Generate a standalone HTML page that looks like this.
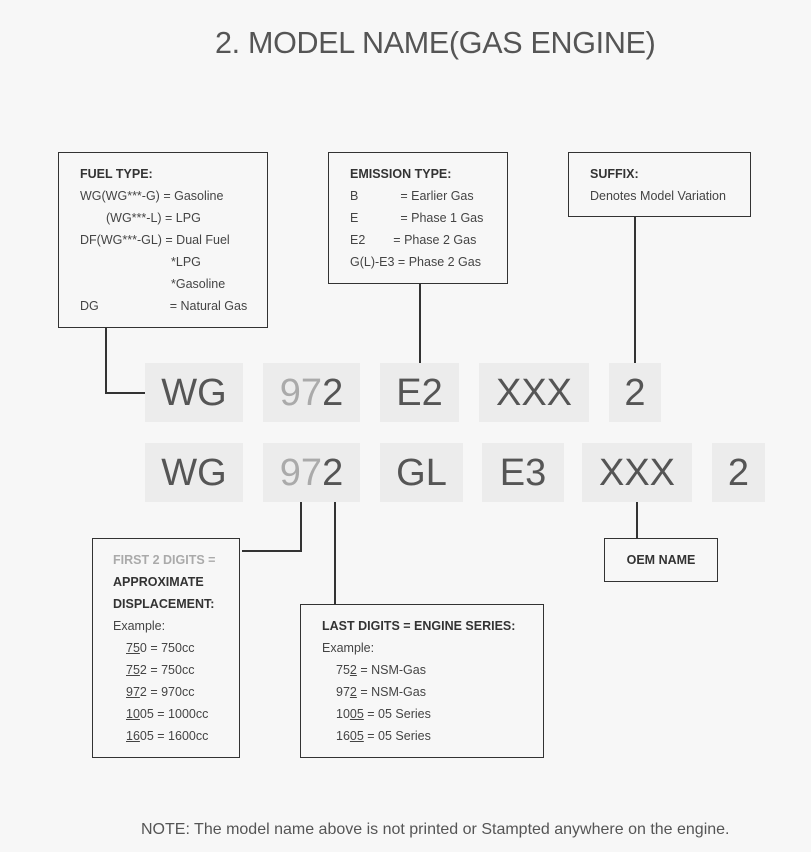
<!DOCTYPE html>
<html><head><meta charset="utf-8"><style>
body{margin:0;width:811px;height:852px;background:#f7f7f7;position:relative;overflow:hidden;font-family:"Liberation Sans",Arial,sans-serif;color:#444}
.a{position:absolute}
.box{position:absolute;border:1px solid #333;box-sizing:border-box;font-size:12.5px;line-height:22px;color:#444}
.b{font-weight:bold;color:#333}
.t{position:absolute;background:#ececec;color:#555;font-size:38px;text-align:center;line-height:60px;height:59px}
.l{position:absolute;background:#333}
.g{color:#aaa}
u{text-decoration:underline}
</style></head><body>
<div class="a" style="left:215px;width:440px;top:26px;text-align:center;font-size:30.5px;color:#555;white-space:nowrap;letter-spacing:-0.3px">2. MODEL NAME(GAS ENGINE)</div>

<div class="box" style="left:58px;top:152px;width:210px;height:176px;padding:10px 0 0 21px">
<div class="b">FUEL TYPE:</div>
<div>WG(WG***-G) = Gasoline</div>
<div style="padding-left:26px">(WG***-L) = LPG</div>
<div>DF(WG***-GL) = Dual Fuel</div>
<div style="padding-left:91px">*LPG</div>
<div style="padding-left:91px">*Gasoline</div>
<div>DG<span style="padding-left:71px">= Natural Gas</span></div>
</div>

<div class="box" style="left:328px;top:152px;width:180px;height:132px;padding:10px 0 0 21px">
<div class="b">EMISSION TYPE:</div>
<div>B<span style="padding-left:42px">= Earlier Gas</span></div>
<div>E<span style="padding-left:42px">= Phase 1 Gas</span></div>
<div>E2<span style="padding-left:28px">= Phase 2 Gas</span></div>
<div>G(L)-E3 = Phase 2 Gas</div>
</div>

<div class="box" style="left:568px;top:152px;width:183px;height:65px;padding:10px 0 0 21px">
<div class="b">SUFFIX:</div>
<div>Denotes Model Variation</div>
</div>

<div class="l" style="left:105px;top:327px;width:2px;height:67px"></div>
<div class="l" style="left:105px;top:392px;width:40px;height:2px"></div>
<div class="l" style="left:419px;top:283px;width:2px;height:80px"></div>
<div class="l" style="left:634px;top:216px;width:2px;height:147px"></div>

<div class="t" style="left:145px;top:363px;width:98px">WG</div>
<div class="t" style="left:263px;top:363px;width:97px"><span class="g">97</span>2</div>
<div class="t" style="left:380px;top:363px;width:79px">E2</div>
<div class="t" style="left:479px;top:363px;width:110px">XXX</div>
<div class="t" style="left:609px;top:363px;width:52px">2</div>

<div class="t" style="left:145px;top:443px;width:98px">WG</div>
<div class="t" style="left:263px;top:443px;width:97px"><span class="g">97</span>2</div>
<div class="t" style="left:380px;top:443px;width:83px">GL</div>
<div class="t" style="left:482px;top:443px;width:82px">E3</div>
<div class="t" style="left:582px;top:443px;width:110px">XXX</div>
<div class="t" style="left:712px;top:443px;width:53px">2</div>

<div class="l" style="left:300px;top:502px;width:2px;height:50px"></div>
<div class="l" style="left:242px;top:550px;width:60px;height:2px"></div>
<div class="l" style="left:334px;top:502px;width:2px;height:102px"></div>
<div class="l" style="left:636px;top:502px;width:2px;height:37px"></div>

<div class="box" style="left:92px;top:538px;width:148px;height:220px;padding:10px 0 0 20px">
<div class="b g">FIRST 2 DIGITS =</div>
<div class="b">APPROXIMATE</div>
<div class="b">DISPLACEMENT:</div>
<div>Example:</div>
<div style="padding-left:13px"><u>75</u>0 = 750cc</div>
<div style="padding-left:13px"><u>75</u>2 = 750cc</div>
<div style="padding-left:13px"><u>97</u>2 = 970cc</div>
<div style="padding-left:13px"><u>10</u>05 = 1000cc</div>
<div style="padding-left:13px"><u>16</u>05 = 1600cc</div>
</div>

<div class="box" style="left:300px;top:604px;width:244px;height:154px;padding:10px 0 0 21px">
<div class="b">LAST DIGITS = ENGINE SERIES:</div>
<div>Example:</div>
<div style="padding-left:14px">75<u>2</u> = NSM-Gas</div>
<div style="padding-left:14px">97<u>2</u> = NSM-Gas</div>
<div style="padding-left:14px">10<u>05</u> = 05 Series</div>
<div style="padding-left:14px">16<u>05</u> = 05 Series</div>
</div>

<div class="box b" style="left:604px;top:538px;width:114px;height:44px;text-align:center;line-height:42px;font-size:12.5px">OEM NAME</div>

<div class="a" style="left:141px;top:821px;font-size:16px;color:#555;white-space:nowrap">NOTE: The model name above is not printed or Stampted anywhere on the engine.</div>
</body></html>
